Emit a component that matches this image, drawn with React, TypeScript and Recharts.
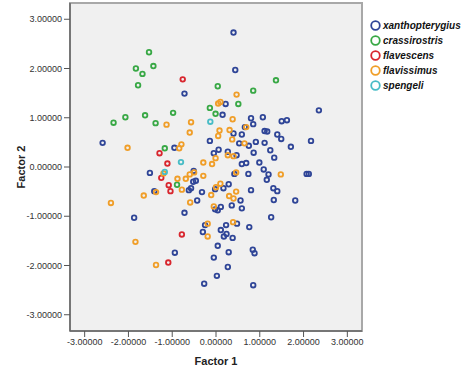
import React from 'react';
import {
  ScatterChart,
  Scatter,
  XAxis,
  YAxis,
  CartesianGrid,
  ReferenceArea,
  Label,
} from 'recharts';

// ---- Data (Factor 1, Factor 2) ----
const speciesNames = ['xanthopterygius', 'crassirostris', 'flavescens', 'flavissimus', 'spengeli'];

const xanthopterygius: [number, number][] = [
  [-2.59, 0.49], [-0.72, 1.49], [-0.95, 0.39], [-1.51, -0.12], [-0.51, -0.08],
  [0.40, 2.73], [0.44, 1.97], [0.22, 1.28], [0.15, 1.06], [2.35, 1.15],
  [0.80, 0.99], [1.07, 1.01], [0.85, 0.87], [0.66, 0.81], [1.50, 0.93],
  [1.62, 0.95], [1.11, 0.73], [1.17, 0.72], [0.40, 0.68], [0.59, 0.66],
  [1.40, 0.66], [1.49, 0.57], [-0.14, 0.53], [0.53, 0.48], [0.75, 0.43],
  [0.91, 0.51], [1.11, 0.49], [1.71, 0.41], [2.17, 0.53], [0.06, 0.35],
  [-0.05, 0.28], [0.27, 0.31], [0.86, 0.29], [1.24, 0.34], [0.47, 0.24],
  [1.33, 0.19], [0.99, 0.09], [0.59, 0.06], [0.69, 0.08], [1.09, -0.05],
  [1.20, -0.15], [1.16, -0.26], [0.74, -0.14], [0.42, -0.14], [2.07, -0.14],
  [2.12, -0.14], [-1.41, -0.49], [-0.52, -0.30], [-0.46, -0.28], [-0.57, -0.43],
  [-0.62, -0.47], [-0.32, -0.51], [-0.43, -0.68], [-0.72, -0.93], [-0.02, -0.45],
  [0.11, -0.81], [-0.02, -0.86], [0.04, -0.88], [-0.25, -1.18], [-0.30, -1.32],
  [0.11, -1.28], [0.18, -1.41], [0.04, -1.60], [0.17, -0.43], [0.29, -0.35],
  [0.80, -0.47], [1.31, -0.43], [1.40, -0.49], [1.32, -0.67], [1.81, -0.68],
  [0.56, -0.68], [0.59, -0.84], [0.36, -0.78], [1.26, -1.02], [0.76, -1.22],
  [0.48, -1.15], [0.23, -1.18], [0.24, -1.36], [0.38, -1.44], [0.29, -1.73],
  [0.84, -1.68], [0.88, -1.75], [-0.05, -1.84], [0.27, -2.03], [0.02, -2.21],
  [-0.27, -2.37], [0.85, -2.40], [-1.87, -1.03], [-0.94, -1.74],
];

const crassirostris: [number, number][] = [
  [-1.53, 2.33], [-1.83, 2.0], [-1.68, 1.89], [-1.43, 2.05], [-1.78, 1.66],
  [-2.34, 0.90], [-2.07, 1.01], [-1.62, 1.05], [-1.38, 0.89], [-0.98, 1.10],
  [-1.17, 0.38], [0.04, 1.64], [0.85, 1.55], [1.37, 1.76], [-0.14, 1.20],
  [-0.01, 1.08], [0.51, 1.28], [-0.89, -0.36],
];

const flavescens: [number, number][] = [
  [-0.76, 1.78], [-1.29, 0.28], [-1.11, 0.07], [-1.25, -0.22], [-1.08, -0.37],
  [-1.04, -0.49], [-0.78, -1.37], [-1.09, -1.94],
];

const flavissimus: [number, number][] = [
  [-2.02, 0.39], [-1.13, 0.86], [-0.57, 0.91], [-0.60, 0.70], [-0.79, 0.46],
  [-0.84, 0.38], [-1.20, -0.13], [-0.88, -0.24], [-0.69, -0.24], [-0.60, -0.15],
  [-0.50, -0.11], [-0.29, -0.18], [-0.29, 0.09], [-0.09, 0.06], [-0.01, 0.18],
  [0.47, 1.47], [0.10, 1.32], [0.05, 1.29], [0.38, 0.97], [0.08, 0.74],
  [0.31, 0.75], [0.05, 0.63], [0.37, 0.56], [0.69, 0.81], [0.65, 0.48],
  [0.27, 0.24], [0.40, 0.22], [0.46, -0.11], [1.48, -0.15], [-1.65, -0.58],
  [-1.37, -0.51], [-0.78, -0.46], [-0.11, -0.57], [0.10, -0.34], [0.0, -0.41],
  [-0.59, -0.72], [-0.05, -0.80], [-0.19, -1.15], [-0.19, -1.41], [0.46, -0.50],
  [0.30, -0.59], [0.40, -0.64], [0.39, -1.12], [-2.40, -0.73], [-1.84, -1.52],
  [-1.37, -1.99],
];

const spengeli: [number, number][] = [
  [-0.80, 0.10], [-1.17, -0.10], [-0.13, 0.92],
];

const axisTicks = [-3, -2, -1, 0, 1, 2, 3];

const seriesColors = ['#2f4597', '#38a845', '#d8262e', '#f09e28', '#48bcc6'];
const seriesData = [xanthopterygius, crassirostris, flavescens, flavissimus, spengeli];

const X_DOMAIN: [number, number] = [-3.335, 3.335];
const Y_DOMAIN: [number, number] = [-3.33, 3.33];

const FONT = '"Liberation Sans", Arial, sans-serif';

const toRows = (pts: [number, number][]) => pts.map(([x, y]) => ({ x, y }));

const makeShape = (color: string) => (props: any) => (
  <circle cx={props.cx} cy={props.cy} r={2.3} fill="none" stroke={color} strokeWidth={1.8} />
);

const XTitle = (props: any) => {
  const vb = props.viewBox || { x: 70, y: 331, width: 292, height: 30 };
  return (
    <text x={vb.x + vb.width / 2} y={vb.y + 33.5} textAnchor="middle" fontFamily={FONT} fontSize={11} fontWeight="bold" fill="#222">
      Factor 1
    </text>
  );
};

const YTitle = (props: any) => {
  const vb = props.viewBox || { x: 8, y: 3, width: 62, height: 328 };
  const cx = vb.x + 17;
  const cy = vb.y + vb.height / 2;
  return (
    <text x={cx} y={cy} transform={`rotate(-90 ${cx} ${cy})`} textAnchor="middle" fontFamily={FONT} fontSize={11} fontWeight="bold" fill="#222">
      Factor 2
    </text>
  );
};

export default function App() {
  return (
    <div style={{ position: 'absolute', left: 0, top: 0, width: 474, height: 369, background: '#fff' }}>
      <ScatterChart width={474} height={369} margin={{ top: 3, right: 112, bottom: 8, left: 8 }}>
        <CartesianGrid fill="#f0f0f0" horizontal={false} vertical={false} />
        <ReferenceArea x1={X_DOMAIN[0]} x2={X_DOMAIN[1]} y1={Y_DOMAIN[0]} y2={Y_DOMAIN[1]} fill="none" stroke="#a8a8a8" strokeWidth={2} />
        <XAxis
          type="number"
          dataKey="x"
          domain={X_DOMAIN}
          allowDataOverflow
          ticks={axisTicks}
          tickFormatter={(v: number) => v.toFixed(5)}
          height={30}
          tickSize={6}
          axisLine={{ stroke: '#666', strokeWidth: 1.5 }}
          tickLine={{ stroke: '#555' }}
          tick={{ fontSize: 9, fill: '#333', fontFamily: FONT }}
          interval={0}
        >
          <Label content={<XTitle />} />
        </XAxis>
        <YAxis
          type="number"
          dataKey="y"
          domain={Y_DOMAIN}
          allowDataOverflow
          ticks={axisTicks}
          tickFormatter={(v: number) => v.toFixed(5)}
          width={62}
          tickSize={6}
          axisLine={{ stroke: '#666', strokeWidth: 1.5 }}
          tickLine={{ stroke: '#555' }}
          tick={{ fontSize: 9, fill: '#333', fontFamily: FONT }}
          interval={0}
        >
          <Label content={<YTitle />} />
        </YAxis>
        {seriesData.map((pts, i) => (
          <Scatter
            key={speciesNames[i]}
            name={speciesNames[i]}
            data={toRows(pts)}
            shape={makeShape(seriesColors[i])}
            isAnimationActive={false}
          />
        ))}
      </ScatterChart>
      <div style={{ position: 'absolute', left: 369, top: 18, fontFamily: FONT, fontSize: 10, fontWeight: 'bold', fontStyle: 'italic', color: '#111' }}>
        {speciesNames.map((name, i) => (
          <div key={name} style={{ display: 'flex', alignItems: 'center', height: 15 }}>
            <svg width={13} height={13} style={{ marginRight: 1 }}>
              <circle cx={6.5} cy={6.5} r={4.3} fill="none" stroke={seriesColors[i]} strokeWidth={1.8} />
            </svg>
            <span>{name}</span>
          </div>
        ))}
      </div>
    </div>
  );
}
